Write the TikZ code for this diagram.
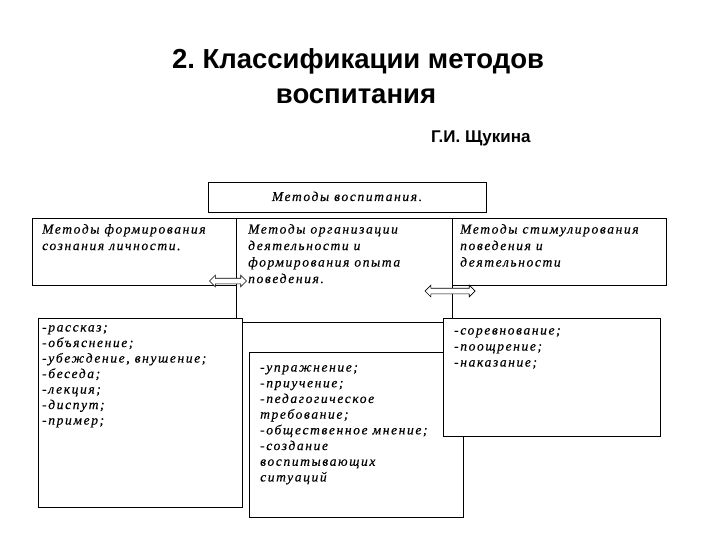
\documentclass[tikz,border=0pt]{standalone}
\usepackage{fontspec}
\frenchspacing
\setmainfont{Liberation Serif}
\newfontfamily\titlefont{Liberation Sans}
\newfontfamily\boxfont{Liberation Serif}[LetterSpace=12,FakeBold=0.4]
\usetikzlibrary{shapes.arrows}
\begin{document}
\begin{tikzpicture}[x=1pt,y=-1pt,
  box/.style={draw, fill=white, line width=1.1pt, inner sep=0pt, anchor=north west},
  txt/.style={anchor=north west, inner sep=0pt, align=left, font=\boxfont\itshape\fontsize{13.5}{16.5}\selectfont},
  txtl/.style={txt, font=\boxfont\itshape\fontsize{13.5}{15.5}\selectfont},
  txtm/.style={txt, font=\boxfont\itshape\fontsize{13.5}{15.7}\selectfont},
  txtr/.style={txt, font=\boxfont\itshape\fontsize{13.5}{16}\selectfont},
  dblarrow/.style={double arrow, draw, fill=white, line width=0.7pt, inner xsep=0pt, inner ysep=2.5pt, double arrow head extend=3pt},
  ttl/.style={anchor=base, inner sep=0pt, font=\titlefont\bfseries\fontsize{27.5}{33}\selectfont}]
\useasboundingbox (0,0) rectangle (720,540);
\fill[white] (0,0) rectangle (720,540);
% title
\node[ttl] (title1) at (358,69) {2. Классификации методов};
\node[ttl] (title2) at (356,104) {воспитания};
\node[anchor=base west, inner sep=0pt, font=\titlefont\bfseries\fontsize{17}{20}\selectfont] (author) at (431,143) {Г.И. Щукина};
% middle upper box
\node[box, minimum width=216pt, minimum height=104pt] (mid) at (236,218) {};
\node[txt] (midt) at (248,224) {Методы организации\\деятельности и\\формирования опыта\\поведения.};
% left upper box
\node[box, minimum width=204pt, minimum height=67pt] (left) at (32,218) {};
\node[txt] (leftt) at (42,224) {Методы формирования\\сознания личности.};
% right upper box
\node[box, minimum width=214pt, minimum height=67pt] (right) at (452,218) {};
\node[txt] (rightt) at (460,224) {Методы стимулирования\\поведения и\\деятельности};
% top box
\node[box, minimum width=278pt, minimum height=30pt] (top) at (208,182) {};
\node[txt, anchor=base] (topt) at (347,201) {Методы воспитания.};
% lower middle box
\node[box, minimum width=214pt, minimum height=165pt] (lmid) at (249,352) {};
\node[txtm] (lmidt) at (260,365) {-упражнение;\\-приучение;\\-педагогическое\\требование;\\-общественное мнение;\\-создание\\воспитывающих\\ситуаций};
% lower left box
\node[box, minimum width=204pt, minimum height=189pt] (lleft) at (38,318) {};
\node[txtl] (lleftt) at (42,325) {-рассказ;\\-объяснение;\\-убеждение, внушение;\\-беседа;\\-лекция;\\-диспут;\\-пример;};
% lower right box
\node[box, minimum width=217pt, minimum height=118pt] (lright) at (443,318) {};
\node[txtr] (lrightt) at (454,328) {-соревнование;\\-поощрение;\\-наказание;};
% arrows
\node[dblarrow, minimum height=37pt] (arrL) at (228,281) {};
\node[dblarrow, minimum height=50pt] (arrR) at (450,291) {};
\end{tikzpicture}
\end{document}
